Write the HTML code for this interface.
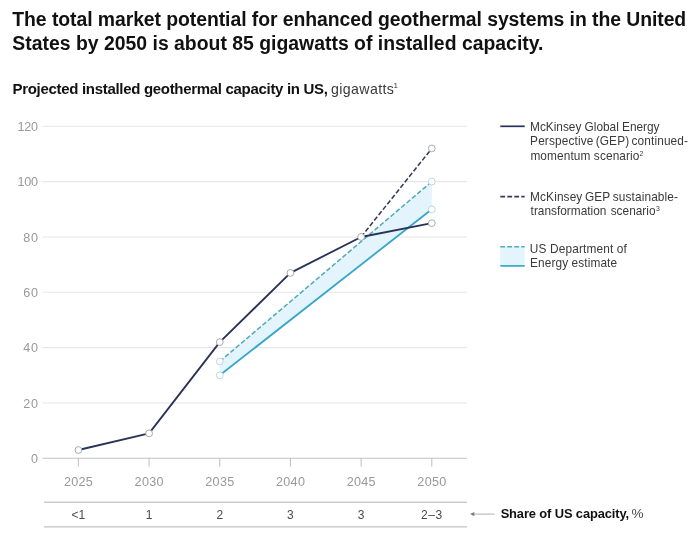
<!DOCTYPE html>
<html><head><meta charset="utf-8"><title>Geothermal</title>
<style>
html,body{margin:0;padding:0;background:#fff}
body{width:696px;height:541px;position:relative;overflow:hidden;font-family:"Liberation Sans",sans-serif;color:#111}
#chart{position:absolute;left:0;top:0}
.t{position:absolute;white-space:nowrap;line-height:normal}
.sp{position:absolute;line-height:normal;letter-spacing:0;vertical-align:baseline}
</style></head><body>
<svg id="chart" width="696" height="541" viewBox="0 0 696 541">
<style>.ax{font:12.6px "Liberation Sans",sans-serif;fill:#999}.sh{font:12px "Liberation Sans",sans-serif;fill:#4a4a4a}</style>
<line x1="42.5" x2="467" y1="402.97" y2="402.97" stroke="#e6e6e6" stroke-width="1.1"/><line x1="42.5" x2="467" y1="347.63" y2="347.63" stroke="#e6e6e6" stroke-width="1.1"/><line x1="42.5" x2="467" y1="292.3" y2="292.3" stroke="#e6e6e6" stroke-width="1.1"/><line x1="42.5" x2="467" y1="236.97" y2="236.97" stroke="#e6e6e6" stroke-width="1.1"/><line x1="42.5" x2="467" y1="181.63" y2="181.63" stroke="#e6e6e6" stroke-width="1.1"/><line x1="42.5" x2="467" y1="126.3" y2="126.3" stroke="#e6e6e6" stroke-width="1.1"/><line x1="42.5" x2="467" y1="458.3" y2="458.3" stroke="#c2c2c2" stroke-width="1.05"/><line x1="78.4" x2="78.4" y1="458.3" y2="466.8" stroke="#c2c2c2" stroke-width="1.05"/><line x1="149.08" x2="149.08" y1="458.3" y2="466.8" stroke="#c2c2c2" stroke-width="1.05"/><line x1="219.76" x2="219.76" y1="458.3" y2="466.8" stroke="#c2c2c2" stroke-width="1.05"/><line x1="290.44" x2="290.44" y1="458.3" y2="466.8" stroke="#c2c2c2" stroke-width="1.05"/><line x1="361.12" x2="361.12" y1="458.3" y2="466.8" stroke="#c2c2c2" stroke-width="1.05"/><line x1="431.8" x2="431.8" y1="458.3" y2="466.8" stroke="#c2c2c2" stroke-width="1.05"/><text x="38.6" y="462.9" text-anchor="end" class="ax" letter-spacing="0.7">0</text><text x="38.6" y="407.57" text-anchor="end" class="ax" letter-spacing="0.7">20</text><text x="38.6" y="352.23" text-anchor="end" class="ax" letter-spacing="0.7">40</text><text x="38.6" y="296.9" text-anchor="end" class="ax" letter-spacing="0.7">60</text><text x="38.6" y="241.57" text-anchor="end" class="ax" letter-spacing="0.7">80</text><text x="37.55" y="186.23" text-anchor="end" class="ax" letter-spacing="-0.35">100</text><text x="37.55" y="130.9" text-anchor="end" class="ax" letter-spacing="-0.35">120</text><text x="78.55000000000001" y="486.1" text-anchor="middle" class="ax" letter-spacing="0.3">2025</text><text x="149.23000000000002" y="486.1" text-anchor="middle" class="ax" letter-spacing="0.3">2030</text><text x="219.91" y="486.1" text-anchor="middle" class="ax" letter-spacing="0.3">2035</text><text x="290.59" y="486.1" text-anchor="middle" class="ax" letter-spacing="0.3">2040</text><text x="361.27" y="486.1" text-anchor="middle" class="ax" letter-spacing="0.3">2045</text><text x="431.95" y="486.1" text-anchor="middle" class="ax" letter-spacing="0.3">2050</text>
<line x1="44" x2="467" y1="502.2" y2="502.2" stroke="#b2b2b2" stroke-width="1.0"/>
<line x1="44" x2="467" y1="526.9" y2="526.9" stroke="#b2b2b2" stroke-width="1.0"/>
<text x="78.4" y="519" text-anchor="middle" class="sh">&lt;1</text><text x="149.08" y="519" text-anchor="middle" class="sh">1</text><text x="219.76" y="519" text-anchor="middle" class="sh">2</text><text x="290.44" y="519" text-anchor="middle" class="sh">3</text><text x="361.12" y="519" text-anchor="middle" class="sh">3</text><text x="431.8" y="519" text-anchor="middle" class="sh" letter-spacing="0.5">2–3</text>
<polygon points="219.76,361.47 431.8,181.63 431.8,209.3 219.76,375.3" fill="#e3f4fc"/>
<polyline points="219.76,375.3 431.8,209.3" fill="none" stroke="#37a6c8" stroke-width="1.8"/>
<polyline points="219.76,361.47 431.8,181.63" fill="none" stroke="#4facb8" stroke-width="1.55" stroke-dasharray="4.8 2.2"/>
<polyline points="78.4,450.0 149.08,433.4 219.76,342.1 290.44,272.93 361.12,236.97 431.8,223.13" fill="none" stroke="#2b3259" stroke-width="1.85" stroke-linejoin="round"/>
<polyline points="361.12,236.97 431.8,148.43" fill="none" stroke="#343a5c" stroke-width="1.55" stroke-dasharray="4.8 2.2"/>
<circle cx="219.76" cy="361.47" r="3.4" fill="#fff" stroke="#b4d2da" stroke-width="0.9"/><circle cx="431.8" cy="181.63" r="3.4" fill="#fff" stroke="#b4d2da" stroke-width="0.9"/><circle cx="219.76" cy="375.3" r="3.4" fill="#fff" stroke="#b4d2da" stroke-width="0.9"/><circle cx="431.8" cy="209.3" r="3.4" fill="#fff" stroke="#b4d2da" stroke-width="0.9"/><circle cx="78.4" cy="450.0" r="3.4" fill="#fff" stroke="#a0a0a0" stroke-width="0.9"/><circle cx="149.08" cy="433.4" r="3.4" fill="#fff" stroke="#a0a0a0" stroke-width="0.9"/><circle cx="219.76" cy="342.1" r="3.4" fill="#fff" stroke="#a0a0a0" stroke-width="0.9"/><circle cx="290.44" cy="272.93" r="3.4" fill="#fff" stroke="#a0a0a0" stroke-width="0.9"/><circle cx="361.12" cy="236.97" r="3.4" fill="#fff" stroke="#a0a0a0" stroke-width="0.9"/><circle cx="431.8" cy="223.13" r="3.4" fill="#fff" stroke="#a0a0a0" stroke-width="0.9"/><circle cx="431.8" cy="148.43" r="3.4" fill="#fff" stroke="#a0a0a0" stroke-width="0.9"/>
<!-- legend -->
<line x1="500.3" x2="524.7" y1="126.3" y2="126.3" stroke="#2b3259" stroke-width="1.7"/>
<line x1="500.3" x2="524.7" y1="196.6" y2="196.6" stroke="#343a5c" stroke-width="1.55" stroke-dasharray="4.8 2.2"/>
<rect x="500.3" y="246.7" width="24.4" height="19.2" fill="#e3f4fc"/>
<line x1="500.3" x2="524.7" y1="246.7" y2="246.7" stroke="#4facb8" stroke-width="1.55" stroke-dasharray="4.8 2.2"/>
<line x1="500.3" x2="524.7" y1="265.9" y2="265.9" stroke="#37a6c8" stroke-width="1.7"/>
<!-- arrow -->
<line x1="473" x2="494.5" y1="514.1" y2="514.1" stroke="#b0b0b0" stroke-width="1"/>
<polygon points="470,514.1 474.3,511.9 474.3,516.3" fill="#808080"/>
</svg>
<div class="t" id="t1" style="left:12.3px;top:7.94px;font-size:19.4px;font-weight:bold;color:#111;letter-spacing:-0.069px;word-spacing:0px">The total market potential for enhanced geothermal systems in the United</div>
<div class="t" id="t2" style="left:12.33px;top:32.14px;font-size:19.4px;font-weight:bold;color:#111;letter-spacing:0.004px;word-spacing:0px">States by 2050 is about 85 gigawatts of installed capacity.</div>
<div class="t" id="s1" style="left:12.49px;top:79.62px;font-size:15.0px;font-weight:bold;color:#111;letter-spacing:-0.307px;word-spacing:0px">Projected installed geothermal capacity in US,</div>
<div class="t" id="s2" style="left:331.12px;top:81.35px;font-size:14.2px;font-weight:normal;color:#3a3a3a;letter-spacing:0.348px;word-spacing:0px">gigawatts<sup class="sp" style="left:62.48px;top:-0.59px;font-size:8px">1</sup></div>
<div class="t" id="l1a" style="left:530.1px;top:119.88px;font-size:11.85px;font-weight:normal;color:#3a3a3a;letter-spacing:-0.014px;word-spacing:0px">McKinsey Global Energy</div>
<div class="t" id="l1b" style="left:530.1px;top:134.18px;font-size:11.85px;font-weight:normal;color:#3a3a3a;letter-spacing:0.135px;word-spacing:-1.2px">Perspective (GEP) continued-</div>
<div class="t" id="l1c" style="left:530.39px;top:149.38px;font-size:11.85px;font-weight:normal;color:#3a3a3a;letter-spacing:0.108px;word-spacing:0px">momentum scenario<sup class="sp" style="left:109.21px;top:0.47px;font-size:6.8px">2</sup></div>
<div class="t" id="l2a" style="left:530.1px;top:189.98px;font-size:11.85px;font-weight:normal;color:#3a3a3a;letter-spacing:0.121px;word-spacing:-0.8px">McKinsey GEP sustainable-</div>
<div class="t" id="l2b" style="left:530.59px;top:204.48px;font-size:11.85px;font-weight:normal;color:#3a3a3a;letter-spacing:0.008px;word-spacing:1.0px">transformation scenario<sup class="sp" style="left:125.41px;top:0.77px;font-size:6.8px">3</sup></div>
<div class="t" id="l3a" style="left:529.84px;top:241.98px;font-size:11.85px;font-weight:normal;color:#3a3a3a;letter-spacing:0.143px;word-spacing:0px">US Department of</div>
<div class="t" id="l3b" style="left:530.1px;top:256.48px;font-size:11.85px;font-weight:normal;color:#3a3a3a;letter-spacing:0.099px;word-spacing:0px">Energy estimate</div>
<div class="t" id="sh1" style="left:500.64px;top:506.13px;font-size:12.9px;font-weight:bold;color:#111;letter-spacing:-0.117px;word-spacing:0px">Share of US capacity,</div>
<div class="t" id="sh2" style="left:631.38px;top:505.99px;font-size:13.6px;font-weight:normal;color:#4a4a4a;letter-spacing:0px;word-spacing:0px">%</div>
</body></html>
